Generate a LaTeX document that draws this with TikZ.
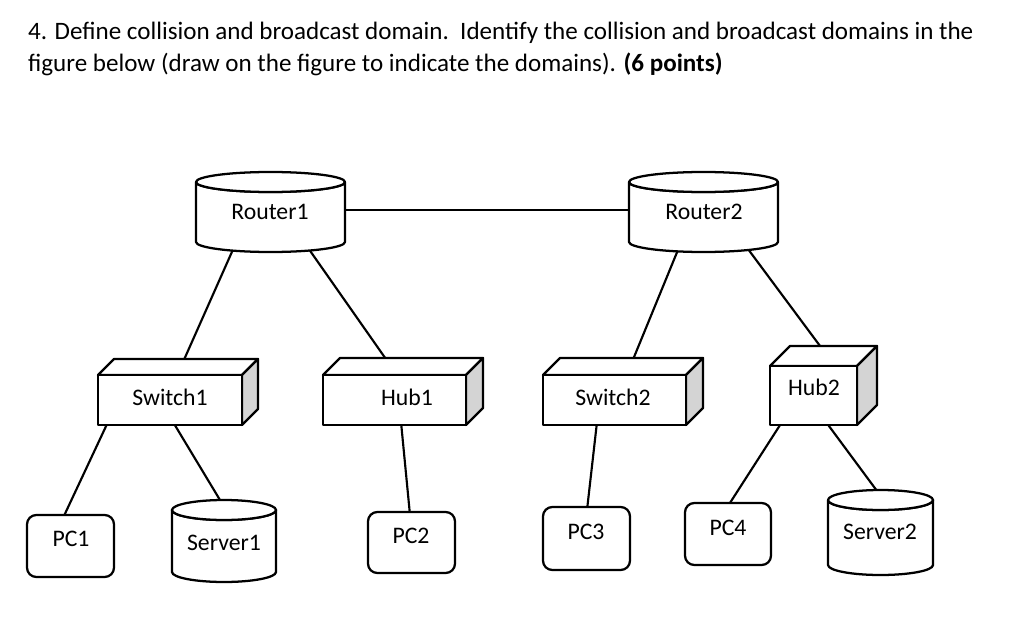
\documentclass[tikz,border=0pt]{standalone}
\usepackage{fontspec}
\setmainfont{Carlito}
\begin{document}
\begin{tikzpicture}[x=0.75pt,y=-0.75pt,line width=1.7pt,line join=round,
  lbl/.style={font=\fontsize{17.8pt}{20pt}\selectfont,inner sep=0pt},
  ttl/.style={font=\fontsize{18.8pt}{22pt}\selectfont,inner sep=0pt,anchor=base west},
  link/.style={line width=1.6pt}]
\useasboundingbox (0,0) rectangle (1024,635);
\fill[white] (0,0) rectangle (1024,635);
% title
\node[ttl] (t1) at (27,40) {4. Define collision and broadcast domain.\ \ Identify the collision and broadcast domains in the};
\node[ttl] (t2) at (27,72) {figure below (draw on the figure to indicate the domains). \textbf{(6 points)}};
% connector coordinates
\coordinate (r1a) at (235,245); \coordinate (s1t) at (183,362);
\coordinate (r1b) at (306,245); \coordinate (h1t) at (388,362);
\coordinate (r1r) at (340,210); \coordinate (r2l) at (635,210);
\coordinate (r2a) at (680,245); \coordinate (s2t) at (632,362);
\coordinate (r2b) at (745,245); \coordinate (h2t) at (823,350);
\coordinate (s1a) at (108,422); \coordinate (pc1t) at (63,518);
\coordinate (s1b) at (173,422); \coordinate (sv1t) at (223,505);
\coordinate (h1b) at (401,422); \coordinate (pc2t) at (410,515);
\coordinate (s2b) at (597,422); \coordinate (pc3t) at (587,510);
\coordinate (h2a) at (782,422); \coordinate (pc4t) at (728,506);
\coordinate (h2b) at (826,422); \coordinate (sv2t) at (880,495);
\foreach \a/\b in {r1a/s1t,r1b/h1t,r1r/r2l,r2a/s2t,r2b/h2t,s1a/pc1t,s1b/sv1t,h1b/pc2t,s2b/pc3t,h2a/pc4t,h2b/sv2t}
  \draw[link] (\a) -- (\b);
% cylinders: x1,x2,ytop,ybot
\newcommand{\mycyl}[4]{%
  \pgfmathsetmacro{\cx}{(#1+#2)/2}\pgfmathsetmacro{\rx}{(#2-#1)/2}%
  \filldraw[fill=white] (#1,#3) -- (#1,#4) arc[start angle=180,end angle=0,x radius=\rx,y radius=10] -- (#2,#3) arc[start angle=0,end angle=180,x radius=\rx,y radius=10] -- cycle;
  \filldraw[fill=white] (\cx,#3) ellipse[x radius=\rx,y radius=10];}
\mycyl{196}{345}{182}{242}
\mycyl{629}{778}{182}{242}
\mycyl{172}{276}{510}{572}
\mycyl{828}{933}{500}{565}
% boxes: x1,x2,ytop,ybot,depth
\newcommand{\mybox}[5]{%
  \filldraw[fill=white] (#1,#3) -- ++(#5,-#5) -- ++(#2-#1,0) -- (#2,#3) -- cycle;
  \filldraw[fill=black!17] (#2,#3) -- ++(#5,-#5) -- ++(0,#4-#3) -- (#2,#4) -- cycle;
  \filldraw[fill=white] (#1,#3) rectangle (#2,#4);}
\mybox{98}{242}{375}{425}{16}
\mybox{323}{466}{375}{425}{17}
\mybox{543}{686}{375}{425}{17}
\mybox{770}{857}{366}{425}{20}
% PCs
\foreach \x/\y/\X/\Y in {27/515/114/577,368/512/455/573,543/507/630/570,685/503/771/565}
  \draw[rounded corners=7pt,fill=white] (\x,\y) rectangle (\X,\Y);
% labels
\node[lbl] (r1) at (270,212) {Router1};
\node[lbl] (r2) at (704,212) {Router2};
\node[lbl] (s1) at (170,397) {Switch1};
\node[lbl] (h1) at (407,397) {Hub1};
\node[lbl] (s2) at (613,397) {Switch2};
\node[lbl] (h2) at (814,387) {Hub2};
\node[lbl] (pc1) at (71,539) {PC1};
\node[lbl] (sv1) at (224,543) {Server1};
\node[lbl] (pc2) at (411,536) {PC2};
\node[lbl] (pc3) at (586,532) {PC3};
\node[lbl] (pc4) at (728,528) {PC4};
\node[lbl] (sv2) at (880,532) {Server2};
\end{tikzpicture}
\end{document}
